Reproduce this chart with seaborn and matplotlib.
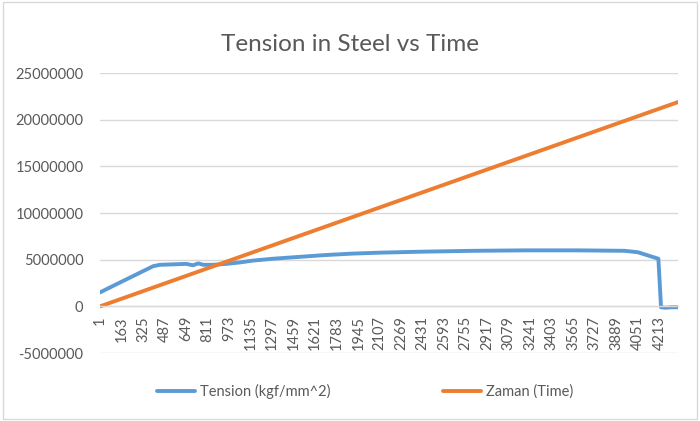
import numpy as np
import pandas as pd
import matplotlib
matplotlib.use("Agg")
import matplotlib.pyplot as plt
import matplotlib.ticker as mticker
from matplotlib.patches import Rectangle
import seaborn as sns

# ── data (category index -> value) ───────────────────────────────
tension_idx = [1, 100, 200, 300, 400, 450, 550, 650, 700, 740, 780, 850,
               950, 1050, 1150, 1300, 1500, 1700, 1900, 2100, 2400, 2800,
               3200, 3600, 3950, 4050, 4205, 4225, 4260, 4300, 4355]
tension_val = [1.5e6, 2.2e6, 2.9e6, 3.6e6, 4.3e6, 4.45e6, 4.5e6, 4.55e6,
               4.4e6, 4.6e6, 4.45e6, 4.45e6, 4.55e6, 4.7e6, 4.9e6, 5.1e6,
               5.3e6, 5.5e6, 5.65e6, 5.75e6, 5.85e6, 5.95e6, 6.0e6, 6.0e6,
               5.95e6, 5.8e6, 5.1e6, -0.1e6, -0.15e6, -0.1e6, -0.1e6]

zaman_idx = [1, 1000, 2000, 3000, 4000, 4355]
zaman_val = [0, 5.03e6, 10.06e6, 15.09e6, 20.12e6, 21.9e6]

n_points = 4355
tick_step = 162
y_ticks = [-5000000, 0, 5000000, 10000000, 15000000, 20000000, 25000000]

BLUE = "#5B9BD5"
ORANGE = "#ED7D31"
GREY_TXT = "#595959"
GRID = "#D9D9D9"

sns.set_theme(style="white")
plt.rcParams["font.family"] = ["Lato", "DejaVu Sans"]

fig = plt.figure(figsize=(7.0, 4.21), dpi=100)
ax = fig.add_axes([0.143, 0.1615, 0.826, 0.665])

df_t = pd.DataFrame({"idx": tension_idx, "val": tension_val})
df_z = pd.DataFrame({"idx": zaman_idx, "val": zaman_val})
sns.lineplot(data=df_t, x="idx", y="val", ax=ax, color=BLUE, linewidth=2.8,
             label="Tension (kgf/mm^2)")
sns.lineplot(data=df_z, x="idx", y="val", ax=ax, color=ORANGE, linewidth=2.8,
             label="Zaman (Time)")

# spine first: moving it resets tick label styling
for s in ["top", "right", "left"]:
    ax.spines[s].set_visible(False)
ax.spines["bottom"].set_position(("data", 0))
ax.spines["bottom"].set_color(GRID)
ax.spines["bottom"].set_linewidth(1)

ax.set_xlim(1, n_points)
ax.set_ylim(-5000000, 25000000)
ax.set_yticks(y_ticks)
ax.yaxis.set_major_formatter(mticker.FuncFormatter(lambda v, p: f"{int(v)}"))
ax.set_xticks(list(range(1, n_points + 1, tick_step)))
ax.set_xticklabels([str(v) for v in range(1, n_points + 1, tick_step)])
ax.grid(True, axis="y", color=GRID, linewidth=1)
ax.set_axisbelow(True)
ax.set_xlabel("")
ax.set_ylabel("")

ax.tick_params(axis="both", length=0, colors=GREY_TXT, labelsize=10.5)
ax.tick_params(axis="y", pad=12)
ax.tick_params(axis="x", pad=7, labelrotation=90)

ax.legend_.remove()
handles, labels = ax.get_legend_handles_labels()
fig.legend(handles, labels, loc="center", bbox_to_anchor=(0.522, 0.071),
           ncol=2, frameon=False, fontsize=10.5, labelcolor=GREY_TXT,
           handlelength=2.6, handletextpad=0.35, columnspacing=7.7)

fig.suptitle("Tension in Steel vs Time", fontsize=17.5, color=GREY_TXT,
             y=0.92)

fig.patches.append(Rectangle((0.004, 0.004), 0.992, 0.992,
                             transform=fig.transFigure, fill=False,
                             edgecolor=GRID, linewidth=1))

fig.savefig("out.png", dpi=100)
